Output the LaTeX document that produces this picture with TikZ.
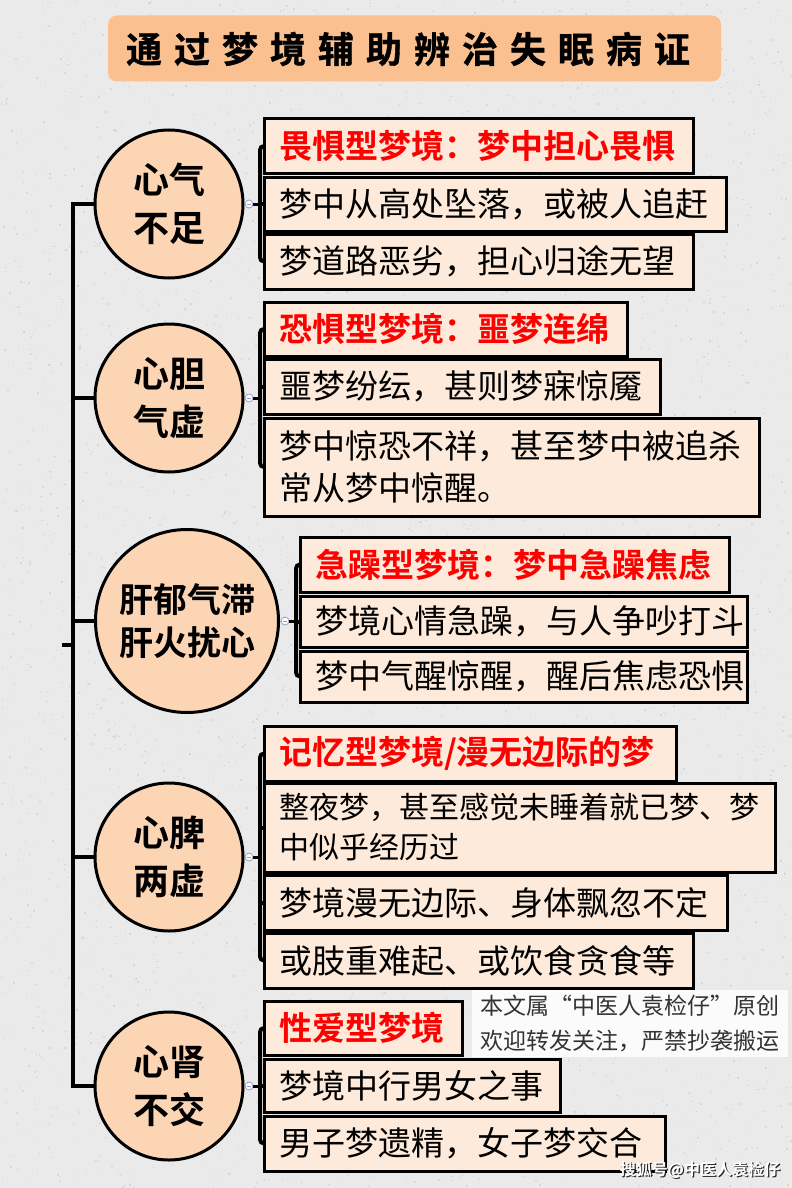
\documentclass[tikz,border=0pt]{standalone}
\usepackage{fontspec}
\setmainfont{Noto Sans CJK SC}[BoldFont={Noto Sans CJK SC Bold}]
\newfontfamily\heavyfont{Noto Sans CJK SC Bold}[FakeBold=1]
\usetikzlibrary{calc}
\definecolor{bgc}{RGB}{234,234,234}
\definecolor{circfill}{RGB}{252,213,181}
\definecolor{boxfill}{RGB}{253,234,218}
\definecolor{titlefill}{RGB}{250,192,144}
\definecolor{hdred}{RGB}{255,0,0}
\definecolor{kgray}{RGB}{150,160,190}
\newcommand\tsp{\hspace{12pt}}
\tikzset{
  bx/.style={draw=black, line width=3pt, fill=boxfill, anchor=north west, outer sep=0pt,
    inner xsep=15pt, inner ysep=0pt, align=left, font=\fontsize{33}{42}\selectfont},
  hd/.style={text=hdred, font=\fontsize{33}{42}\selectfont\bfseries},
  circ/.style={circle, draw=black, line width=3pt, fill=circfill, inner sep=0pt,
    align=center, font=\fontsize{36}{48}\selectfont\bfseries},
  kn/.style={circle, draw=kgray, fill=white, line width=0.8pt, minimum size=8pt, inner sep=0pt},
  trunkline/.style={line width=4.5pt, black},
  brline/.style={line width=4pt, black, rounded corners=4pt},
  knline/.style={line width=1pt, gray!70},
  minus/.style={line width=0.7pt, kgray},
  speck/.style={fill=gray!55, fill opacity=0.35},
}
\begin{document}
\begin{tikzpicture}[x=1pt,y=-1pt]
\useasboundingbox (0,0) rectangle (792,1188);
\fill[bgc] (0,0) rectangle (792,1188);
\pgfmathsetseed{7}
\foreach \i in {1,...,5000}{
  \pgfmathsetmacro\px{rnd*792}
  \pgfmathsetmacro\py{rnd*1188}
  \fill[speck] (\px,\py) rectangle ++(1.4,1.4);
}

% title
\node[fill=titlefill, rounded corners=9pt, minimum width=613pt, minimum height=66pt, inner sep=0pt] (title) at (414.5,48.5) {};
\node[font=\fontsize{36}{36}\selectfont\heavyfont, inner sep=0pt] (titletext) at (408,49)
  {通\tsp 过\tsp 梦\tsp 境\tsp 辅\tsp 助\tsp 辨\tsp 治\tsp 失\tsp 眠\tsp 病\tsp 证};

% circles
\node[circ, minimum size=148pt] (c1) at (169,204) {心气\\不足};
\node[circ, minimum size=148pt] (c2) at (169,398) {心胆\\气虚};
\node[circ, minimum size=183pt, font=\fontsize{34}{43}\selectfont\bfseries] (c3) at (187,621) {肝郁气滞\\肝火扰心};
\node[circ, minimum size=148pt] (c4) at (169,857) {心脾\\两虚};
\node[circ, minimum size=148pt] (c5) at (169,1086) {心肾\\不交};

% trunk
\coordinate (ttop) at (73,204);
\coordinate (tbot) at (73,1086);
\coordinate (root) at (62,645);
\draw[trunkline] (c1.west) -- (ttop) -- (tbot) -- (c5.west);
\draw[trunkline] (c2.west) -- (c2.west -| ttop);
\draw[trunkline] (c3.west) -- (c3.west -| ttop);
\draw[trunkline] (c4.west) -- (c4.west -| ttop);
\draw[trunkline] (root) -- (root -| ttop);

% group 1
\node[bx, hd, text width=399pt, minimum height=54pt] (b11) at (264,119) {畏惧型梦境：梦中担心畏惧};
\node[bx, text width=432pt, minimum height=54pt] (b12) at (264,177) {梦中从高处坠落，或被人追赶};
\node[bx, text width=399pt, minimum height=55pt] (b13) at (264,234) {梦道路恶劣，担心归途无望};
\node[kn] (k1) at (249,204) {};
\coordinate (v1) at (260,204);
\draw[knline] (c1.east) -- (k1.west);
\draw[minus] ([xshift=-2.2pt]k1.center) -- ([xshift=2.2pt]k1.center);
\draw[brline] (b11.west) -| (b13.west -| v1) -- (b13.west);
\draw[brline] (b12.west -| v1) -- (b12.west);
\draw[line width=3pt] (k1.east) -- (v1);

% group 2
\node[bx, hd, text width=333pt, minimum height=54pt] (b21) at (264,302) {恐惧型梦境：噩梦连绵};
\node[bx, text width=366pt, minimum height=55pt] (b22) at (264,359) {噩梦纷纭，甚则梦寐惊魇};
\node[bx, text width=465pt, minimum height=98pt] (b23) at (264,418) {梦中惊恐不祥，甚至梦中被追杀\\常从梦中惊醒。};
\node[kn] (k2) at (249,398) {};
\coordinate (v2) at (260,398);
\draw[knline] (c2.east) -- (k2.west);
\draw[minus] ([xshift=-2.2pt]k2.center) -- ([xshift=2.2pt]k2.center);
\draw[brline] (b21.west) -| (b23.west -| v2) -- (b23.west);
\draw[brline] (b22.west -| v2) -- (b22.west);
\draw[line width=3pt] (k2.east) -- (v2);

% group 3
\node[bx, hd, text width=399pt, minimum height=55pt] (b31) at (300,537) {急躁型梦境：梦中急躁焦虑};
\node[bx, text width=417pt, minimum height=51pt] (b32) at (300,596) {梦境心情急躁，与人争吵打斗};
\node[bx, text width=417pt, minimum height=51pt] (b33) at (300,651) {梦中气醒惊醒，醒后焦虑恐惧};
\node[kn] (k3) at (285,621) {};
\coordinate (v3) at (296,621);
\draw[knline] (c3.east) -- (k3.west);
\draw[minus] ([xshift=-2.2pt]k3.center) -- ([xshift=2.2pt]k3.center);
\draw[brline] (b31.west) -| (b33.west -| v3) -- (b33.west);
\draw[brline] (b32.west -| v3) -- (b32.west);
\draw[line width=3pt] (k3.east) -- (v3);

% group 4
\node[bx, hd, text width=382pt, minimum height=55pt] (b41) at (264,726) {记忆型梦境/漫无边际的梦};
\node[bx, text width=481pt, minimum height=89pt, font=\fontsize{30}{40}\selectfont] (b42) at (264,783) {整夜梦，甚至感觉未睡着就已梦、梦\\中似乎经历过};
\node[bx, text width=433pt, minimum height=55pt] (b43) at (264,875) {梦境漫无边际、身体飘忽不定};
\node[bx, text width=399pt, minimum height=55pt] (b44) at (264,933) {或肢重难起、或饮食贪食等};
\node[kn] (k4) at (249,857) {};
\coordinate (v4) at (260,857);
\draw[knline] (c4.east) -- (k4.west);
\draw[minus] ([xshift=-2.2pt]k4.center) -- ([xshift=2.2pt]k4.center);
\draw[brline] (b41.west) -| (b44.west -| v4) -- (b44.west);
\draw[brline] (b42.west -| v4) -- (b42.west);
\draw[brline] (b43.west -| v4) -- (b43.west);
\draw[line width=3pt] (k4.east) -- (v4);

% group 5
\node[bx, hd, text width=168pt, minimum height=54pt] (b51) at (264,1001) {性爱型梦境};
\node[bx, text width=266pt, minimum height=53pt] (b52) at (264,1059) {梦境中行男女之事};
\node[bx, text width=371pt, minimum height=55pt] (b53) at (264,1116) {男子梦遗精，女子梦交合};
\node[kn] (k5) at (249,1086) {};
\coordinate (v5) at (260,1086);
\draw[knline] (c5.east) -- (k5.west);
\draw[minus] ([xshift=-2.2pt]k5.center) -- ([xshift=2.2pt]k5.center);
\draw[brline] (b51.west) -| (b53.west -| v5) -- (b53.west);
\draw[brline] (b52.west -| v5) -- (b52.west);
\draw[line width=3pt] (k5.east) -- (v5);

% watermark
\node[fill=white, fill opacity=0.85, minimum width=316pt, minimum height=67pt, anchor=north west, inner sep=0pt] (wm) at (472,990) {};
\node[font=\fontsize{23}{35}\selectfont, text=black!80, align=center, inner sep=0pt] (wmt) at (630,1023)
  {本文属“中医人袁检仔”原创\\欢迎转发关注，严禁抄袭搬运};
\node[font=\fontsize{16}{16}\selectfont\bfseries, text=black!85, inner sep=0pt] (sh) at (701.2,1171.2) {搜狐号@中医人袁检仔};
\node[font=\fontsize{16}{16}\selectfont\bfseries, text=white, inner sep=0pt] (sohu) at (700,1170) {搜狐号@中医人袁检仔};
\end{tikzpicture}
\end{document}
